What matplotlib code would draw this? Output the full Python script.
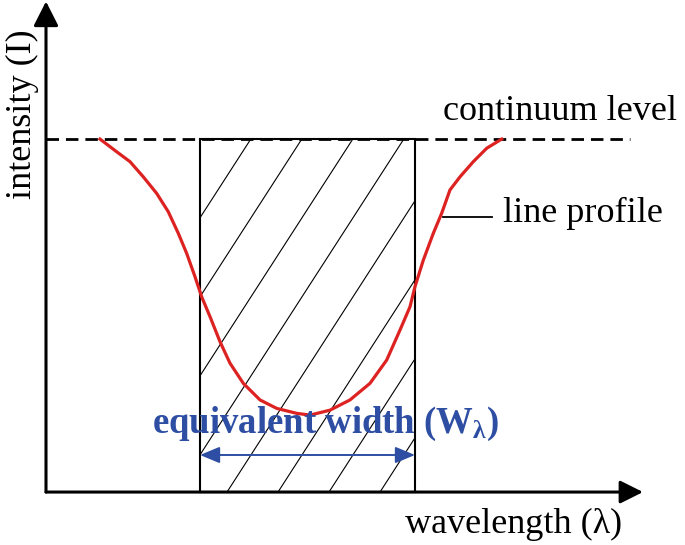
import numpy as np
import matplotlib
matplotlib.use("Agg")
import matplotlib.pyplot as plt
from matplotlib.patches import Rectangle

plt.rcParams['font.family'] = ['Liberation Serif', 'DejaVu Serif']
plt.rcParams['mathtext.fontset'] = 'custom'
plt.rcParams['mathtext.rm'] = 'Liberation Serif:bold'
plt.rcParams['mathtext.it'] = 'Liberation Serif:bold'
plt.rcParams['mathtext.bf'] = 'Liberation Serif:bold'

# line profile (wavelength, intensity / continuum)
wavelength = [0.54, 0.707, 0.84, 0.973, 1.107, 1.223, 1.323, 1.407, 1.49, 1.557,
              1.64, 1.74, 1.84, 1.973, 2.14, 2.307, 2.507, 2.64, 2.84, 3.04,
              3.24, 3.407, 3.54, 3.64, 3.69, 3.773, 3.873, 3.957, 4.04, 4.14,
              4.273, 4.407, 4.557]
intensity = [1.0, 0.964, 0.936, 0.893, 0.846, 0.794, 0.733, 0.676, 0.610, 0.553,
             0.497, 0.426, 0.365, 0.308, 0.261, 0.237, 0.223, 0.218, 0.232, 0.261,
             0.308, 0.374, 0.459, 0.525, 0.582, 0.657, 0.733, 0.790, 0.856, 0.893,
             0.936, 0.974, 1.0]

continuum = 1.0
ew_left, ew_right = 1.54, 3.69   # rectangle with same area as the line

fig = plt.figure(figsize=(6.85, 5.45), dpi=100)
ax = fig.add_axes([0, 0, 1, 1])
ax.set_xlim(-0.46, 6.39)
ax.set_ylim(-0.150, 1.394)
ax.axis('off')

# axes with arrows
ax.annotate('', xy=(5.97, 0), xytext=(0, 0),
            arrowprops=dict(arrowstyle='-|>,head_length=0.7,head_width=0.35',
                            color='black', lw=2.2, mutation_scale=20,
                            shrinkA=0, shrinkB=0))
ax.annotate('', xy=(0, 1.39), xytext=(0, 0),
            arrowprops=dict(arrowstyle='-|>,head_length=0.75,head_width=0.38',
                            color='black', lw=2.2, mutation_scale=20,
                            shrinkA=0, shrinkB=0))

# continuum level
ax.plot([0, 5.84], [continuum, continuum], color='black', lw=2.0,
        dashes=(4.5, 2.5))

# equivalent width box + hatch
rect = Rectangle((ew_left, 0), ew_right - ew_left, continuum,
                 fill=False, edgecolor='black', lw=1.5, zorder=3)
ax.add_patch(rect)
clip = Rectangle((ew_left, 0), ew_right - ew_left, continuum,
                 transform=ax.transData, visible=False)
ax.add_patch(clip)
slope = 0.439     # hatch slope in data units
step = 0.51
x0 = 1.81
ys = np.array([0, continuum])
for k in range(-6, 6):
    xs = x0 + k * step + ys / slope
    ln, = ax.plot(xs, ys, color='black', lw=0.8, zorder=2)
    ln.set_clip_path(clip)

# line profile
ax.plot(wavelength, intensity, color='#dd2222', lw=2.3, zorder=4,
        solid_joinstyle='round')

# width arrow
ax.annotate('', xy=(ew_right, 0.105), xytext=(ew_left, 0.105),
            arrowprops=dict(arrowstyle='<|-|>,head_length=0.6,head_width=0.25',
                            color='#2d4ea3', lw=1.4, mutation_scale=20,
                            shrinkA=0, shrinkB=0), zorder=5)
ax.text(1.06, 0.167, r'equivalent width (W$_\lambda$)', color='#2d4ea3',
        fontsize=26.5, fontweight='bold', ha='left', va='baseline', zorder=5)

# labels
ax.text(3.97, 1.054, 'continuum level', fontsize=26, ha='left', va='baseline')
ax.plot([3.97, 4.46], [0.78, 0.78], color='black', lw=1.3)
ax.text(4.57, 0.764, 'line profile', fontsize=26, ha='left', va='baseline')
ax.text(3.59, -0.117, 'wavelength (λ)', fontsize=26, ha='left', va='baseline')
ax.text(-0.24, 1.07, 'intensity (I)', fontsize=26, rotation=90,
        ha='center', va='center')

fig.savefig('out.png', dpi=100)
